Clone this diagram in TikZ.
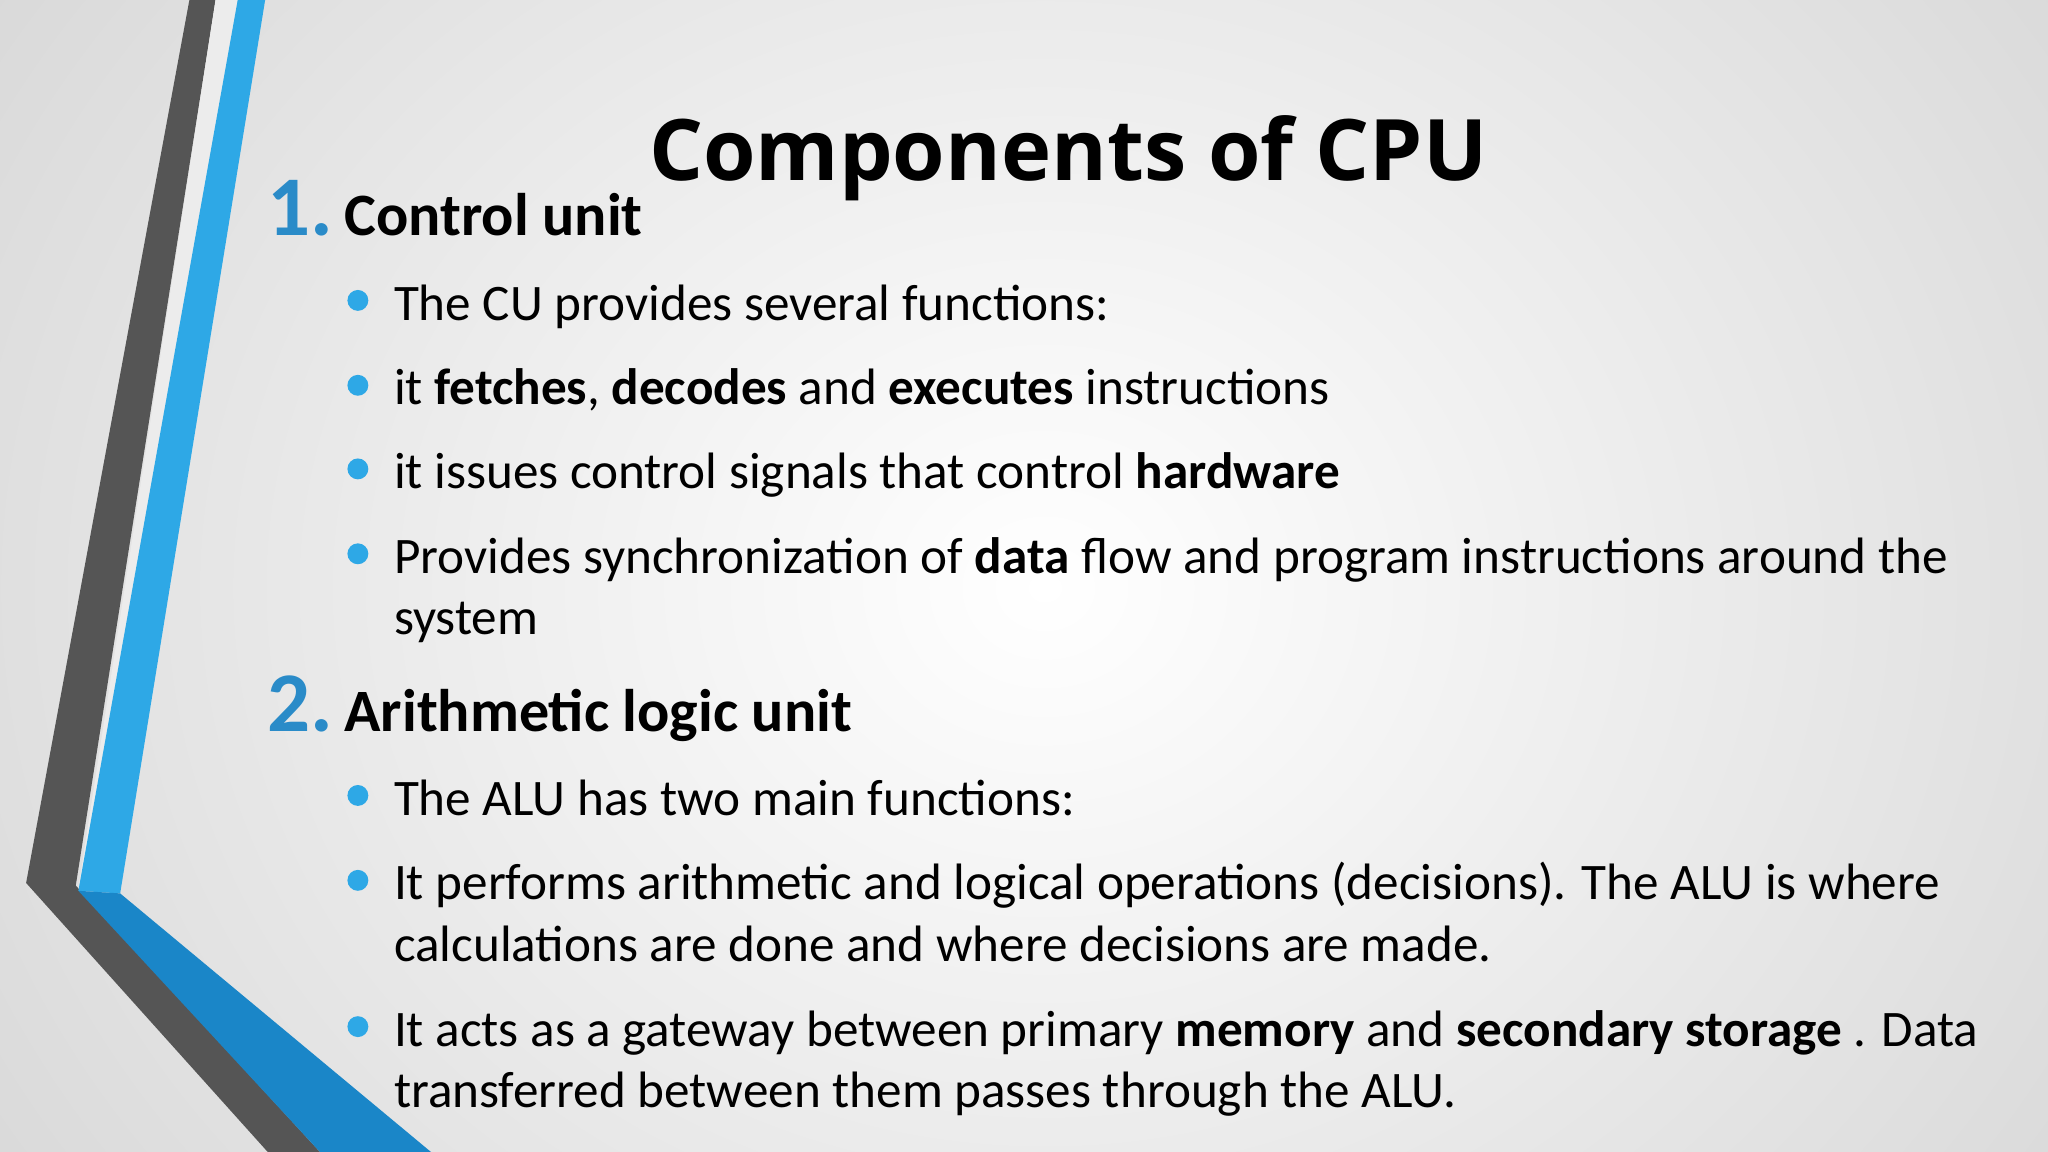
\documentclass[tikz,border=0pt]{standalone}
\usepackage{fontspec}
\setmainfont{Carlito}
\newfontfamily\titlefont{Open Sans}
\definecolor{bluebar}{HTML}{2EA8E6}
\definecolor{bluedark}{HTML}{1A86C8}
\definecolor{graybar}{HTML}{555555}
\definecolor{numblue}{HTML}{2A8BC8}
\begin{document}
\begin{tikzpicture}[x=0.1mm,y=-0.1mm,
  body/.style={anchor=base west,inner sep=0,font=\fontsize{11.15}{13}\selectfont,text=black},
  head/.style={anchor=base west,inner sep=0,font=\fontsize{13.1}{15}\selectfont\bfseries},
  num/.style={anchor=base east,inner sep=0,font=\fontsize{18.5}{20}\selectfont\bfseries,text=numblue},
  dot/.style={circle,fill=bluebar,inner sep=0,minimum size=1.6mm}]
\useasboundingbox (0,0) rectangle (1568,882);
\shade[inner color=white,outer color=black!17] (-300,-500) rectangle (1900,1400);
\fill[graybar] (145,0) -- (165,0) -- (58,678) -- (245,882) -- (205,882) -- (20,676) -- cycle;
\fill[white!85!gray] (165,0) -- (182,0) -- (75,680) -- (60,680) -- cycle;
\fill[bluebar] (182,0) -- (203,0) -- (92,684) -- (60,682) -- cycle;
\fill[bluedark] (60,682) -- (92,684) -- (330,882) -- (245,882) -- cycle;
\node[anchor=base,inner sep=0,font=\titlefont\fontsize{18.5}{20}\selectfont\bfseries] (title) at (818,138) {Components of CPU};
\node[num] (n1) at (256,180) {1.};
\node[head] (h1) at (263,180) {Control unit};
\node[dot] (d1) at (274,230) {};
\node[body] (t1) at (301,245) {The CU provides several functions:};
\node[dot] (d2) at (274,295) {};
\node[body] (t2) at (301,310) {it \textbf{fetches}, \textbf{decodes} and \textbf{executes} instructions};
\node[dot] (d3) at (274,359) {};
\node[body] (t3) at (301,374) {it issues control signals that control \textbf{hardware}};
\node[dot] (d4) at (274,424) {};
\node[body] (t4) at (301,439) {Provides synchronization of \textbf{data} flow and program instructions around the};
\node[body] (t4b) at (301,486) {system};
\node[num] (n2) at (256,560) {2.};
\node[head] (h2) at (263,560) {Arithmetic logic unit};
\node[dot] (d5) at (274,609) {};
\node[body] (t5) at (301,624) {The ALU has two main functions:};
\node[dot] (d6) at (274,674) {};
\node[body] (t6) at (301,689) {It performs arithmetic and logical operations (decisions). The ALU is where};
\node[body] (t6b) at (301,736) {calculations are done and where decisions are made.};
\node[dot] (d7) at (274,786) {};
\node[body] (t7) at (301,801) {It acts as a gateway between primary \textbf{memory} and \textbf{secondary storage} . Data};
\node[body] (t7b) at (301,848) {transferred between them passes through the ALU.};
\end{tikzpicture}
\end{document}
